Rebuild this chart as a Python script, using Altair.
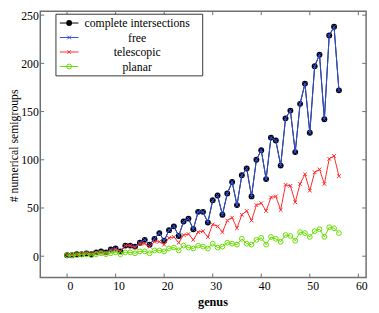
import altair as alt
import pandas as pd

genus = list(range(0, 57))
complete_intersections = [1, 1, 2, 2, 3, 2, 4, 5, 4, 7,
                          8, 5, 11, 11, 10, 14, 17, 12, 18, 24,
                          16, 27, 31, 21, 36, 39, 28, 46, 46, 35,
                          58, 63, 43, 65, 77, 53, 84, 91, 62, 100,
                          110, 80, 123, 120, 94, 143, 151, 108, 158, 179,
                          128, 197, 209, 142, 229, 238, 172]
free = [1, 1, 2, 2, 3, 2, 4, 5, 4, 7,
        8, 5, 11, 11, 10, 14, 17, 12, 18, 24,
        16, 27, 31, 21, 36, 39, 28, 46, 46, 35,
        58, 63, 43, 65, 77, 53, 84, 91, 62, 100,
        110, 80, 123, 120, 94, 143, 151, 108, 158, 179,
        128, 197, 209, 142, 229, 238, 172]
telescopic = [1, 1, 2, 2, 3, 2, 4, 4, 3, 6,
              7, 5, 11, 11, 9, 13, 13, 10, 15, 15,
              12, 19, 20, 14, 22, 23, 17, 25, 26, 20,
              33, 31, 25, 37, 40, 29, 43, 47, 37, 53,
              55, 47, 61, 62, 48, 74, 73, 56, 75, 85,
              68, 87, 90, 75, 101, 104, 83]
planar = [1, 1, 1, 2, 2, 1, 2, 3, 2, 3,
          4, 2, 4, 4, 3, 5, 5, 3, 6, 6,
          5, 8, 9, 6, 11, 9, 8, 11, 10, 8,
          13, 9, 10, 14, 13, 12, 18, 13, 12, 17,
          19, 12, 20, 18, 15, 22, 21, 16, 25, 24,
          20, 26, 28, 20, 30, 29, 24]

series_names = ["complete intersections", "free", "telescopic", "planar"]
x_ticks = [0, 10, 20, 30, 40, 50, 60]
y_ticks = [0, 50, 100, 150, 200, 250]

W, H = 333, 272
FONT = "Liberation Serif, Times New Roman, serif"
FRAME = "#707070"
XMARK = "M-1,-1L1,1M-1,1L1,-1"

xs = alt.Scale(domain=[-5.52, 61.6], nice=False, zero=False)
ys = alt.Scale(domain=[-22, 254], nice=False, zero=False)

xaxis = alt.Axis(values=x_ticks, ticks=False, domain=False, grid=False,
                 labelFont=FONT, labelFontSize=12, labelColor="black",
                 labelPadding=3, labelOffset=3, labelFlush=False,
                 title="genus", titleFont=FONT, titleFontSize=12.5,
                 titleFontWeight="bold", titleColor="black",
                 titleX=176, titleY=29, titleBaseline="alphabetic")
yaxis = alt.Axis(values=y_ticks, ticks=False, domain=False, grid=False,
                 labelFont=FONT, labelFontSize=12, labelColor="black",
                 labelPadding=2, labelFlush=False,
                 title="# numerical semigroups", titleFont=FONT,
                 titleFontSize=12, titleFontWeight="normal", titleColor="black",
                 titleX=-27.5, titleY=137, titleAngle=270, titleAlign="center",
                 titleBaseline="middle")

df = pd.DataFrame({"genus": genus, "ci": complete_intersections, "free": free,
                   "tele": telescopic, "planar": planar})
base = alt.Chart(df)

def X(f="genus:Q"):
    return alt.X(f, scale=xs, axis=xaxis)

def Y(f):
    return alt.Y(f, scale=ys, axis=yaxis)

ci_line = base.mark_line(color="black", strokeWidth=1).encode(x=X(), y=Y("ci:Q"))
ci_pts = base.mark_point(shape="circle", filled=True, color="black", size=36, opacity=1).encode(
    x=X(), y=Y("ci:Q"))
free_line = base.mark_line(color="#2f4fe0", strokeWidth=1).encode(x=X(), y=Y("free:Q"))
free_pts = base.mark_point(shape=XMARK, filled=False, color="#2f4fe0", size=14, strokeWidth=1, opacity=1).encode(
    x=X(), y=Y("free:Q"))
tele_line = base.mark_line(color="#ff2a2a", strokeWidth=1).encode(x=X(), y=Y("tele:Q"))
tele_pts = base.mark_point(shape=XMARK, filled=False, color="#ff2a2a", size=14, strokeWidth=1, opacity=1).encode(
    x=X(), y=Y("tele:Q"))
pl_line = base.mark_line(color="#66dd00", strokeWidth=1).encode(x=X(), y=Y("planar:Q"))
pl_pts = base.mark_point(shape="circle", filled=False, color="#66dd00", size=24, strokeWidth=1, opacity=1).encode(
    x=X(), y=Y("planar:Q"))

# inward tick marks on all four sides
xt = alt.Chart(pd.DataFrame({"genus": x_ticks}))
yt = alt.Chart(pd.DataFrame({"ci": y_ticks}))
tb = xt.mark_rule(color=FRAME, strokeWidth=1).encode(x=X(), y=alt.value(H), y2=alt.value(H - 4))
tt = xt.mark_rule(color=FRAME, strokeWidth=1).encode(x=X(), y=alt.value(0), y2=alt.value(4))
tl = yt.mark_rule(color=FRAME, strokeWidth=1).encode(y=Y("ci:Q"), x=alt.value(0), x2=alt.value(4))
tr = yt.mark_rule(color=FRAME, strokeWidth=1).encode(y=Y("ci:Q"), x=alt.value(W), x2=alt.value(W - 4))

# legend
leg_box = alt.Chart(pd.DataFrame({"a": [0]})).mark_rect(fill="white", stroke="#333333", strokeWidth=1).encode(
    x=alt.value(16), x2=alt.value(166), y=alt.value(3), y2=alt.value(66))
styles = [
    dict(color="black", shape="circle", filled=True, size=36),
    dict(color="#2f4fe0", shape=XMARK, filled=False, size=14),
    dict(color="#ff2a2a", shape=XMARK, filled=False, size=14),
    dict(color="#66dd00", shape="circle", filled=False, size=24),
]
legend_layers = [leg_box]
for i, (name, st) in enumerate(zip(series_names, styles)):
    ry = 12 + i * 14.8
    src = alt.Chart(pd.DataFrame({"label": [name]}))
    legend_layers.append(src.mark_rule(color=st["color"], strokeWidth=1).encode(
        x=alt.value(20), x2=alt.value(39), y=alt.value(ry)))
    legend_layers.append(src.mark_point(shape=st["shape"], filled=st["filled"], color=st["color"],
                                        size=st["size"], strokeWidth=1, opacity=1).encode(
        x=alt.value(29.5), y=alt.value(ry)))
    legend_layers.append(src.mark_text(font=FONT, fontSize=12, color="black", align="center",
                                       baseline="middle").encode(
        x=alt.value(99), y=alt.value(ry + 0.5), text="label:N"))

chart = alt.layer(ci_line, ci_pts, free_line, free_pts, tele_line, tele_pts, pl_line, pl_pts,
                  tb, tt, tl, tr, *legend_layers).properties(
    width=W, height=H,
    autosize=alt.AutoSizeParams(type="none"),
    padding={"left": 33, "top": 0, "right": 5, "bottom": 33},
    background="white",
).configure_view(stroke=FRAME, strokeWidth=1.5)

chart.save("out.html", embed_options={"renderer": "svg", "actions": False})
